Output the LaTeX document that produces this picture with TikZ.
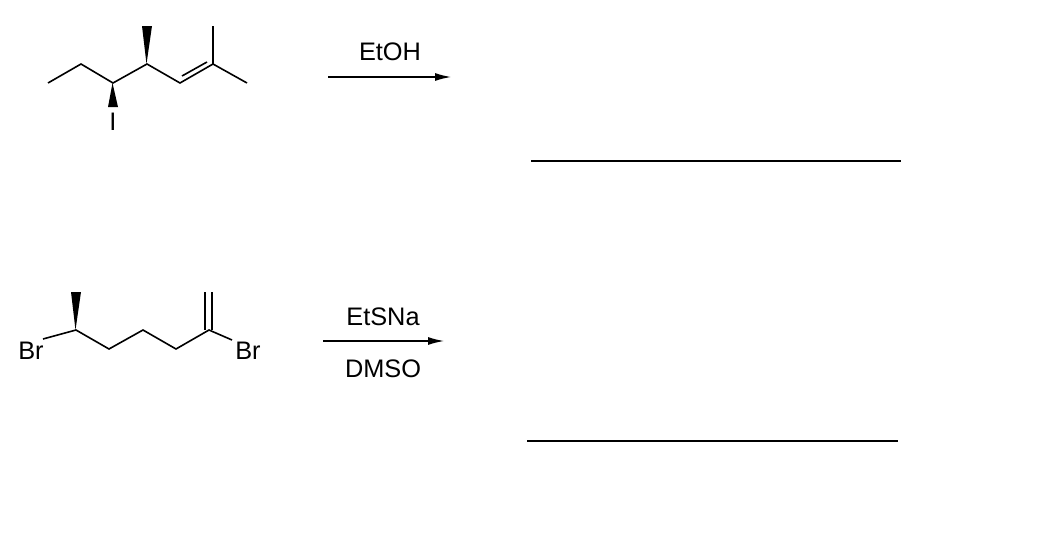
\documentclass[tikz,border=0pt]{standalone}
\usepackage{fontspec}
\setmainfont{Liberation Sans}
\usetikzlibrary{arrows.meta}
\begin{document}
\begin{tikzpicture}[x=0.75pt,y=-0.75pt,
  bond/.style={line width=1.2pt},
  lbl/.style={font=\fontsize{19}{21}\selectfont,inner sep=0pt},
  rxn/.style={line width=1pt,-{Latex[length=12pt,width=6pt]}}]
\useasboundingbox (0,0) rectangle (1050,546);
% molecule 1
\coordinate (a) at (48,83); \coordinate (b) at (81,64); \coordinate (c) at (113,83);
\coordinate (d) at (147,64); \coordinate (e) at (180,83); \coordinate (f) at (213,64);
\coordinate (g) at (247,83); \coordinate (ft) at (213,26); \coordinate (dt) at (147,26);
\draw[bond] (a)--(b)--(c)--(d)--(e)--(f)--(g); \draw[bond] (f)--(ft);
\draw[bond] (182,76)--(207,62);
\fill (d) ++(-0.5,0) -- ++(-4.5,-38) -- ++(10,0) -- cycle;
\fill (c) ++(-0.5,0) -- ++(-4.5,24) -- ++(10,0) -- cycle;
\node[lbl] (I) at (113,122) {I};
% molecule 2
\node[lbl] (br1) at (31,351) {Br};
\node[lbl] (br2) at (248,351) {Br};
\coordinate (p1) at (76,330); \coordinate (p2) at (109,349); \coordinate (p3) at (143,330);
\coordinate (p4) at (176,349); \coordinate (p5) at (209,330);
\draw[bond] (43,339)--(p1)--(p2)--(p3)--(p4)--(p5)--(232,340);
\draw[bond] (205,330)--(205,292); \draw[bond] (212,330)--(212,292);
\fill (p1) ++(-0.5,0) -- ++(-4.5,-38) -- ++(10,0) -- cycle;
% arrows
\coordinate (r1s) at (328,77); \coordinate (r1e) at (451,77);
\draw[rxn] (r1s)--(r1e);
\node[lbl] (t1) at (390,52) {EtOH};
\draw[bond] (531,161)--(901,161);
\coordinate (r2s) at (323,341); \coordinate (r2e) at (444,341);
\draw[rxn] (r2s)--(r2e);
\node[lbl] (t2) at (383,317) {EtSNa};
\node[lbl] (t3) at (383,369) {DMSO};
\draw[bond] (527,441)--(898,441);
\end{tikzpicture}
\end{document}
